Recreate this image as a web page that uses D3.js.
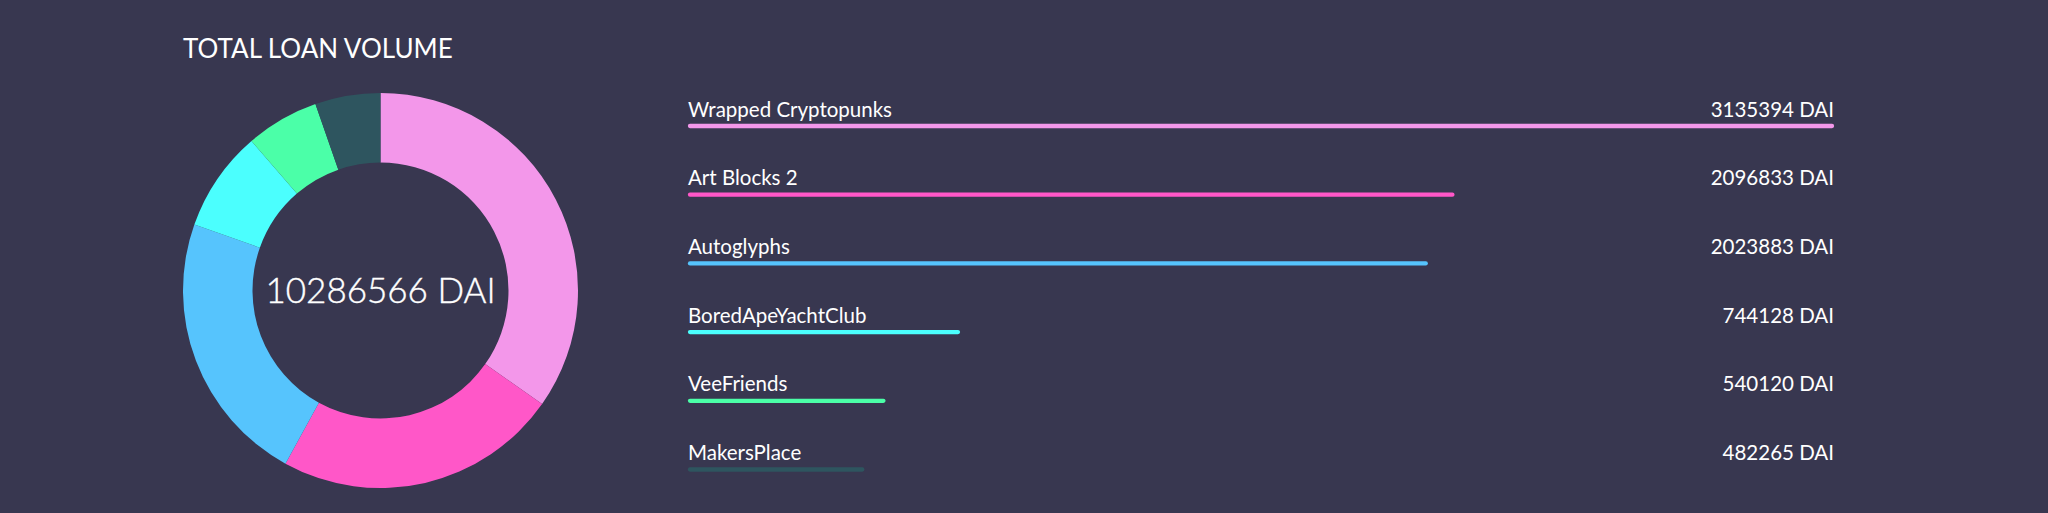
<!DOCTYPE html>
<html><head><meta charset="utf-8">
<script src="https://cdn.jsdelivr.net/npm/d3@7"></script>
<style>
html,body{margin:0;padding:0;background:#383750;overflow:hidden}
svg{display:block}
text{font-family:Lato,"Open Sans",sans-serif}
</style></head>
<body>
<svg id="chart" width="2048" height="513"></svg>
<script>
const categories = ["Wrapped Cryptopunks","Art Blocks 2","Autoglyphs","BoredApeYachtClub","VeeFriends","MakersPlace"];
const values = [3135394, 2096833, 2023883, 744128, 540120, 482265];
const colors = ["#f397ea","#ff57c8","#56c4fd","#4bfffe","#4bffa8","#2e555f"];
const totalLabel = 10286566;
const unit = "DAI";
const title = "TOTAL LOAN VOLUME";

const svg = d3.select("#chart");
svg.append("rect").attr("width",2048).attr("height",513).attr("fill","#383750");

svg.append("text").attr("x",183).attr("y",58)
  .attr("fill","#ffffff").attr("font-size",26).attr("font-weight",400)
  .text(title);

// Donut
const cx = 380.5, cy = 290.5, outerR = 197.5, innerR = 128;
const pie = d3.pie().sort(null).value(d=>d);
const arc = d3.arc().innerRadius(innerR).outerRadius(outerR);
const g = svg.append("g").attr("transform",`translate(${cx},${cy})`);
g.selectAll("path").data(pie(values)).join("path")
  .attr("d",arc).attr("fill",(d,i)=>colors[i]);
g.append("text").attr("text-anchor","middle").attr("y",12)
  .attr("fill","#ffffff").attr("font-size",35).attr("font-weight",300)
  .attr("stroke","#ffffff").attr("stroke-width",0.4)
  .text(`${totalLabel} ${unit}`);

// Bars
const x = d3.scaleLinear().domain([0, d3.max(values)]).range([688, 1834]);
const y = d3.scalePoint().domain(categories).range([126, 469.5]);
const rows = svg.append("g").selectAll("g").data(categories).join("g");
rows.append("line")
  .attr("x1",x(0)+2).attr("x2",(d,i)=>x(values[i])-2)
  .attr("y1",d=>y(d)).attr("y2",d=>y(d))
  .attr("stroke",(d,i)=>colors[i]).attr("stroke-width",4.3).attr("stroke-linecap","round");
rows.append("text").attr("x",x(0)).attr("y",d=>y(d)-9.5)
  .attr("fill","#ffffff").attr("font-size",20.5).text(d=>d);
rows.append("text").attr("x",x.range()[1]).attr("y",d=>y(d)-9.5)
  .attr("text-anchor","end").attr("fill","#ffffff").attr("font-size",20.5)
  .text((d,i)=>`${values[i]} ${unit}`);
</script>
</body></html>
